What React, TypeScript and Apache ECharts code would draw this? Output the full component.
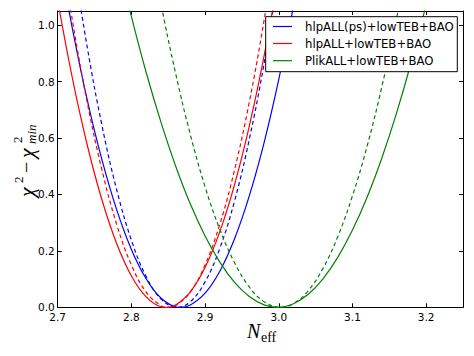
import React, { useEffect, useRef } from "react";
import * as echarts from "echarts";

// Tick labels
const xTicks = [2.7, 2.8, 2.9, 3.0, 3.1, 3.2];
const yTicks = [0.0, 0.2, 0.4, 0.6, 0.8, 1.0];

// Legend labels
const names = ["hlpALL(ps)+lowTEB+BAO", "hlpALL+lowTEB+BAO", "PlikALL+lowTEB+BAO"];

// Curves: [N_eff, chi2 - chi2_min]
const blueSolid: [number, number][] = [
  [2.70, 1.273], [2.72, 0.987], [2.74, 0.736], [2.76, 0.523], [2.78, 0.346],
  [2.80, 0.205], [2.82, 0.101], [2.84, 0.033], [2.86, 0.002], [2.867, 0.0],
  [2.88, 0.008], [2.90, 0.050], [2.92, 0.128], [2.94, 0.243], [2.96, 0.395],
  [2.98, 0.583], [3.00, 0.808], [3.02, 1.069], [3.04, 1.367],
];
const blueDashed: [number, number][] = [
  [2.72, 1.250], [2.74, 0.923], [2.76, 0.645], [2.78, 0.417], [2.80, 0.238],
  [2.82, 0.109], [2.84, 0.030], [2.862, 0.0], [2.88, 0.020], [2.90, 0.090],
  [2.92, 0.209], [2.94, 0.377], [2.96, 0.595], [2.98, 0.863], [3.00, 1.181],
];
const redSolid: [number, number][] = [
  [2.70, 1.087], [2.72, 0.811], [2.74, 0.576], [2.76, 0.381], [2.78, 0.226],
  [2.80, 0.111], [2.82, 0.037], [2.84, 0.002], [2.847, 0.0], [2.86, 0.0085],
  [2.88, 0.055], [2.90, 0.141], [2.92, 0.268], [2.94, 0.435], [2.96, 0.642],
  [2.98, 0.890], [3.00, 1.177],
];
const redDashed: [number, number][] = [
  [2.70, 1.352], [2.72, 1.016], [2.74, 0.727], [2.76, 0.487], [2.78, 0.294],
  [2.80, 0.150], [2.82, 0.054], [2.84, 0.006], [2.85, 0.0], [2.86, 0.006],
  [2.88, 0.054], [2.90, 0.150], [2.92, 0.294], [2.94, 0.487], [2.96, 0.727],
  [2.98, 1.016], [3.00, 1.352],
];
const greenSolid: [number, number][] = [
  [2.78, 1.250], [2.80, 1.031], [2.82, 0.833], [2.84, 0.657], [2.86, 0.501],
  [2.88, 0.366], [2.90, 0.253], [2.92, 0.160], [2.94, 0.088], [2.96, 0.038],
  [2.98, 0.0085], [2.998, 0.0], [3.02, 0.0127], [3.04, 0.046], [3.06, 0.101],
  [3.08, 0.177], [3.10, 0.274], [3.12, 0.391], [3.14, 0.530], [3.16, 0.690],
  [3.18, 0.871], [3.20, 1.073], [3.22, 1.296],
];
const greenDashed: [number, number][] = [
  [2.82, 1.361], [2.84, 1.078], [2.86, 0.829], [2.88, 0.612], [2.90, 0.427],
  [2.92, 0.276], [2.94, 0.158], [2.96, 0.072], [2.98, 0.020], [3.002, 0.0],
  [3.02, 0.013], [3.04, 0.059], [3.06, 0.138], [3.08, 0.250], [3.10, 0.395],
  [3.12, 0.572], [3.14, 0.783], [3.16, 1.026], [3.18, 1.302],
];

const BLUE = "#0000ff";
const RED = "#ff0000";
const GREEN = "#008000";

const isTick = (arr: number[], v: number) => arr.some((t) => Math.abs(t - v) < 1e-6);

export default function App() {
  const ref = useRef<HTMLDivElement>(null);
  useEffect(() => {
    document.body.style.margin = "0";
    const chart = echarts.init(ref.current!, undefined, { renderer: "svg" });
    const mk = (name: string, data: [number, number][], color: string, dashed: boolean) => ({
      type: "line",
      name,
      data,
      xAxisIndex: 0,
      yAxisIndex: 0,
      symbol: "none",
      smooth: 0.4,
      clip: true,
      lineStyle: { color, width: 1.2, type: dashed ? [4, 3] : "solid" },
      z: 3,
    });
    const sans = "DejaVu Sans";
    const serif = "Liberation Serif";
    const baseX = {
      type: "value",
      min: 2.7,
      max: 3.25,
      interval: 0.1,
      splitLine: { show: false },
      axisLine: { show: true, onZero: false, lineStyle: { color: "#000", width: 1 } },
      axisTick: { show: true, inside: true, length: 4, lineStyle: { color: "#000" } },
    };
    const baseY = {
      type: "value",
      min: 0,
      max: 1.05,
      interval: 0.2,
      splitLine: { show: false },
      axisLine: { show: true, onZero: false, lineStyle: { color: "#000", width: 1 } },
      axisTick: { show: true, inside: true, length: 4, lineStyle: { color: "#000" } },
    };
    const legendX = 265.7;
    const legendY = 16.7;
    const rows = [26.5, 43.5, 60.7];
    const colors = [BLUE, RED, GREEN];
    const legendEls: any[] = [
      {
        type: "rect",
        z: 100,
        shape: { x: legendX, y: legendY, width: 191.6, height: 55 },
        style: { fill: "#fff", stroke: "#000", lineWidth: 1 },
      },
    ];
    names.forEach((n, i) => {
      legendEls.push({
        type: "line",
        z: 101,
        shape: { x1: 273, y1: rows[i], x2: 292, y2: rows[i] },
        style: { stroke: colors[i], lineWidth: 1.2 },
      });
      legendEls.push({
        type: "text",
        z: 101,
        x: 305,
        y: rows[i],
        style: {
          text: n,
          font: `11.7px "${sans}"`,
          fill: "#000",
          align: "left",
          verticalAlign: "middle",
        },
      });
    });
    const yTitle = {
      type: "group",
      x: 33,
      y: 197,
      rotation: Math.PI / 2,
      children: [
        { type: "text", x: 0, y: -7, style: { text: "χ", font: `italic 22px "${serif}"`, fill: "#000", align: "left", verticalAlign: "middle" } },
        { type: "text", x: 14, y: -15, style: { text: "2", font: `13px "${serif}"`, fill: "#000", align: "left", verticalAlign: "middle" } },
        { type: "text", x: 24, y: -7, style: { text: "−", font: `20px "${serif}"`, fill: "#000", align: "left", verticalAlign: "middle" } },
        { type: "text", x: 39, y: -7, style: { text: "χ", font: `italic 22px "${serif}"`, fill: "#000", align: "left", verticalAlign: "middle" } },
        { type: "text", x: 54, y: -16, style: { text: "2", font: `13px "${serif}"`, fill: "#000", align: "left", verticalAlign: "middle" } },
        { type: "text", x: 53, y: -2, style: { text: "min", font: `italic 13px "${serif}"`, fill: "#000", align: "left", verticalAlign: "middle" } },
      ],
    };
    const xTitle = {
      type: "group",
      children: [
        { type: "text", x: 247, y: 331, style: { text: "N", font: `italic 20px "${serif}"`, fill: "#000", align: "left", verticalAlign: "middle" } },
        { type: "text", x: 261, y: 337, style: { text: "eff", font: `14px "${serif}"`, fill: "#000", align: "left", verticalAlign: "middle" } },
      ],
    };
    chart.setOption({
      animation: false,
      backgroundColor: "#fff",
      grid: { left: 57.7, right: 11, top: 11, bottom: 48.7, containLabel: false },
      xAxis: [
        {
          ...baseX,
          position: "bottom",
          axisLabel: {
            show: true,
            margin: 4,
            color: "#000",
            fontFamily: sans,
            fontSize: 10.5,
            formatter: (v: number) => (isTick(xTicks, v) ? v.toFixed(1) : ""),
          },
        },
        { ...baseX, position: "top", axisLabel: { show: false } },
      ],
      yAxis: [
        {
          ...baseY,
          position: "left",
          axisLabel: {
            show: true,
            margin: 3,
            color: "#000",
            fontFamily: sans,
            fontSize: 10.5,
            formatter: (v: number) => (isTick(yTicks, v) ? v.toFixed(1) : ""),
          },
        },
        { ...baseY, position: "right", axisLabel: { show: false } },
      ],
      series: [
        mk(names[0], blueSolid, BLUE, false),
        mk(names[0] + " (dashed)", blueDashed, BLUE, true),
        mk(names[1], redSolid, RED, false),
        mk(names[1] + " (dashed)", redDashed, RED, true),
        mk(names[2], greenSolid, GREEN, false),
        mk(names[2] + " (dashed)", greenDashed, GREEN, true),
      ],
      graphic: [...legendEls, yTitle, xTitle],
    });
    return () => chart.dispose();
  }, []);
  return <div ref={ref} style={{ width: 474, height: 356 }} />;
}
